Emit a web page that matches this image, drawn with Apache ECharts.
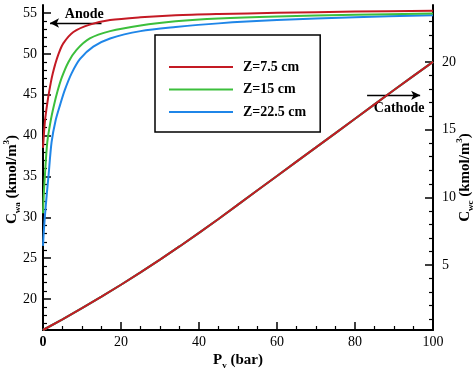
<!DOCTYPE html>
<html><head><meta charset="utf-8">
<script src="https://cdn.jsdelivr.net/npm/echarts@6/dist/echarts.min.js"></script>
<style>html,body{margin:0;padding:0;background:#fff}#c{width:474px;height:368px}</style>
</head><body><div id="c"></div>
<script>
const FONT = '"Liberation Serif","Times New Roman",serif';
const categories = ['Z=7.5 cm', 'Z=15 cm', 'Z=22.5 cm'];
const colors = ['#c41a24', '#3cbf3c', '#1f86e8'];

// Anode side (left axis), P_v in bar
const pRed = [0, 0.3, 0.6, 1.3, 2.0, 2.5, 3.1, 3.9, 5.2, 7.8, 12, 17.2, 25, 34, 45, 60, 80, 100];
const anodeRed = [38.5, 40.6, 42.2, 44.6, 46.5, 47.6, 48.7, 49.9, 51.3, 52.7, 53.6, 54.15, 54.5, 54.75, 54.9, 55.04, 55.2, 55.3];
const pGreen = [0, 0.2, 0.5, 1.1, 2.0, 2.8, 3.7, 4.8, 6.5, 8.6, 12, 17.2, 25, 34, 45, 60, 80, 100];
const anodeGreen = [30.5, 32.8, 35.2, 39.2, 41.9, 43.7, 45.4, 47.1, 49.0, 50.5, 51.9, 52.8, 53.5, 54.0, 54.35, 54.6, 54.8, 54.95];
const pBlue = [0, 0.2, 0.5, 1.0, 1.4, 2.2, 3.2, 4.4, 5.6, 7.3, 9.5, 12.9, 17.2, 25, 34, 45, 60, 80, 100];
const anodeBlue = [26.5, 28.2, 30.2, 33.0, 35.0, 39.2, 41.8, 43.8, 45.6, 47.6, 49.4, 50.9, 51.9, 52.8, 53.3, 53.75, 54.15, 54.5, 54.75];

// Cathode side (right axis)
const pCathode = [0, 5, 10, 15, 20, 25, 30, 35, 40, 45, 50, 55, 60, 65, 70, 75, 80, 85, 90, 95, 100];
const cathode = [0.2, 0.99, 1.81, 2.66, 3.54, 4.46, 5.40, 6.37, 7.37, 8.40, 9.46, 10.52, 11.57, 12.63, 13.69, 14.74, 15.80, 16.86, 17.92, 18.97, 20.0];

// Tick labels
const xTicks = [0, 20, 40, 60, 80, 100];
const leftTicks = [20, 25, 30, 35, 40, 45, 50, 55];
const leftMinor = [17,18,19,21,22,23,24,26,27,28,29,31,32,33,34,36,37,38,39,41,42,43,44,46,47,48,49,51,52,53,54];
const rightTicks = [5, 10, 15, 20];
const rightMinor = [1,2,3,4,6,7,8,9,11,12,13,14,16,17,18,19,21,22,23];

const pair = (xs, ys) => xs.map((x, i) => [x, ys[i]]);

const nameRich = {
  b: {fontFamily: FONT, fontWeight: 'bold', fontSize: 15, color: '#000', lineHeight: 20},
  sub: {fontFamily: FONT, fontWeight: 'bold', fontSize: 9, color: '#000', lineHeight: 9, verticalAlign: 'bottom'},
  sup: {fontFamily: FONT, fontWeight: 'bold', fontSize: 9, color: '#000', lineHeight: 9, verticalAlign: 'top'}
};
const tickLine = {color: '#000', width: 1.5};
const labelStyle = {fontFamily: FONT, fontSize: 14, color: '#000'};

const chart = echarts.init(document.getElementById('c'), null, {renderer: 'canvas'});
const lineBase = (name, idx, data, yAxisIndex, z, smooth) => ({
  name, type: 'line', data, xAxisIndex: 0, yAxisIndex,
  symbol: 'none', showSymbol: false, smooth: smooth,
  lineStyle: {color: colors[idx], width: 2}, itemStyle: {color: colors[idx]},
  emphasis: {disabled: true}, z, animation: false
});

const anodeArrowSeries = lineBase(categories[0], 0, pair(pRed, anodeRed), 0, 5, 0.3);
anodeArrowSeries.markLine = {
  silent: true, animation: false,
  symbol: ['arrow', 'none'], symbolSize: [7, 9],
  lineStyle: {color: '#000', width: 1.3, type: 'solid'},
  label: {show: true, position: 'insideMiddleTop', distance: 2, formatter: 'Anode',
    fontFamily: FONT, fontWeight: 'bold', fontSize: 14, color: '#000', padding: [0, 0, 0, 17]},
  data: [[{coord: [1.8, 53.8]}, {coord: [15, 53.8]}]]
};
const cathodeRed = lineBase(categories[0], 0, pair(pCathode, cathode), 2, 6, false);
cathodeRed.markLine = {
  silent: true, animation: false,
  symbol: ['none', 'arrow'], symbolSize: [7, 9],
  lineStyle: {color: '#000', width: 1.3, type: 'solid'},
  label: {show: true, position: 'insideMiddleBottom', distance: 6, formatter: 'Cathode',
    fontFamily: FONT, fontWeight: 'bold', fontSize: 14, color: '#000', padding: [0, 0, 0, 11]},
  data: [[{coord: [83.1, 17.53]}, {coord: [96.7, 17.53]}]]
};

chart.setOption({
  animation: false,
  backgroundColor: '#fff',
  grid: {left: 43, right: 41, top: 5, bottom: 38, containLabel: false, outerBoundsMode: 'none'},
  legend: {
    data: categories, orient: 'vertical', left: 155, top: 35,
    padding: [25, 14, 13, 14], itemWidth: 64, itemHeight: 2, itemGap: 8.5, icon: 'rect',
    borderColor: '#000', borderWidth: 1.5, selectedMode: false,
    textStyle: {fontFamily: FONT, fontWeight: 'bold', fontSize: 14, lineHeight: 14, color: '#000', padding: [0, 0, 0, 5]}
  },
  xAxis: {
    type: 'value', min: 0, max: 100, interval: 20,
    axisLine: {show: true, onZero: false, lineStyle: {color: '#000', width: 2}},
    axisTick: {show: true, inside: true, length: 8, lineStyle: tickLine},
    minorTick: {show: true, splitNumber: 4, length: 4, lineStyle: {color: '#000', width: 1.2}},
    axisLabel: Object.assign({margin: 5,
      formatter: v => v === 0 ? '{z|0}' : String(v),
      rich: {z: {fontFamily: FONT, fontWeight: 'bold', fontSize: 14, color: '#000'}}}, labelStyle),
    splitLine: {show: false},
    name: '{b|P}{sub|v}{b| (bar)}', nameLocation: 'middle', nameGap: 20, nameMoveOverlap: false,
    nameTextStyle: {rich: nameRich}
  },
  yAxis: [
    {
      type: 'value', position: 'left', min: 16.2, max: 56,
      axisLine: {show: true, onZero: false, lineStyle: {color: '#000', width: 2}},
      axisTick: {show: true, inside: true, length: 8, customValues: leftTicks, lineStyle: tickLine},
      axisLabel: Object.assign({margin: 6, customValues: leftTicks}, labelStyle),
      splitLine: {show: false},
      name: '{b|C}{sub|wa}{b| (kmol/m}{sup|3}{b|)}', nameLocation: 'middle', nameRotate: 90, nameGap: 21,
      nameMoveOverlap: false,
      nameTextStyle: {rich: nameRich, padding: [0, 24, 0, 0]}
    },
    {
      type: 'value', position: 'left', min: 16.2, max: 56,
      axisLine: {show: false},
      axisTick: {show: true, inside: true, length: 4, customValues: leftMinor, lineStyle: {color: '#000', width: 1.2}},
      axisLabel: {show: false}, splitLine: {show: false}
    },
    {
      type: 'value', position: 'right', min: 0.2, max: 24.2,
      axisLine: {show: true, onZero: false, lineStyle: {color: '#000', width: 2}},
      axisTick: {show: true, inside: true, length: 8, customValues: rightTicks, lineStyle: tickLine},
      axisLabel: Object.assign({margin: 9, customValues: rightTicks}, labelStyle),
      splitLine: {show: false},
      name: '{b|C}{sub|wc}{b| (kmol/m}{sup|3}{b|)}', nameLocation: 'middle', nameRotate: 90, nameGap: 22,
      nameMoveOverlap: false,
      nameTextStyle: {rich: nameRich, padding: [0, 20, 0, 0]}
    },
    {
      type: 'value', position: 'right', min: 0.2, max: 24.2,
      axisLine: {show: false},
      axisTick: {show: true, inside: true, length: 4, customValues: rightMinor, lineStyle: {color: '#000', width: 1.2}},
      axisLabel: {show: false}, splitLine: {show: false}
    }
  ],
  series: [
    anodeArrowSeries,
    lineBase(categories[1], 1, pair(pGreen, anodeGreen), 0, 4, 0.3),
    lineBase(categories[2], 2, pair(pBlue, anodeBlue), 0, 3, 0.3),
    lineBase(categories[2], 2, pair(pCathode, cathode), 2, 3, false),
    lineBase(categories[1], 1, pair(pCathode, cathode), 2, 4, false),
    cathodeRed
  ]
});
</script>
</body></html>
